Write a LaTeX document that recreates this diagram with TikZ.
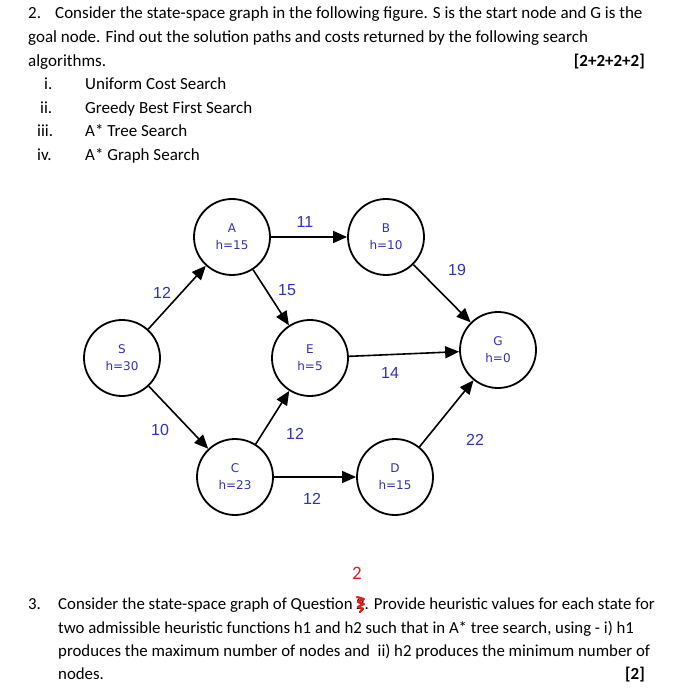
\documentclass[tikz,border=0pt]{standalone}
\usepackage{fontspec}
\setmainfont{Carlito}
\newfontfamily\nodefont{DejaVu Sans}
\newfontfamily\costfont{Liberation Sans}
\usetikzlibrary{arrows.meta}
\definecolor{lblue}{RGB}{50,50,180}
\definecolor{penred}{RGB}{220,30,30}
\begin{document}
\begin{tikzpicture}[x=1pt,y=-1pt,
 state/.style={circle,draw,line width=1.8pt,minimum size=76pt,inner sep=0pt,align=center,
   font=\nodefont\fontsize{12}{17}\selectfont,text=lblue},
 edge/.style={line width=1.6pt,-{Triangle[length=14pt,width=12pt]}},
 cost/.style={font=\costfont\fontsize{16}{18}\selectfont,text=lblue,inner sep=0pt},
 txt/.style={anchor=base west,inner sep=0pt,font=\fontsize{17}{20}\selectfont},
 txtb/.style={anchor=base west,inner sep=0pt,font=\fontsize{16.8}{20}\selectfont},
 txtr/.style={anchor=base east,inner sep=0pt,font=\bfseries\fontsize{17}{20}\selectfont}]
\useasboundingbox[fill=white] (0,0) rectangle (679,700);

% Question 2 text
\node[txt] (q2n) at (28,19) {2.};
\node[txt] (q2l1) at (55,19) {Consider the state-space graph in the following figure. S is the start node and G is the};
\node[txt] (q2l2) at (28,43) {goal node. Find out the solution paths and costs returned by the following search};
\node[txt] (q2l3) at (28,67) {algorithms.};
\node[txtr] (q2m) at (645,67) {[2+2+2+2]};
\node[txt] (i1) at (44,90) {i.};
\node[txt] (i1t) at (85,90) {Uniform Cost Search};
\node[txt] (i2) at (40,114) {ii.};
\node[txt] (i2t) at (85,114) {Greedy Best First Search};
\node[txt] (i3) at (37,137) {iii.};
\node[txt] (i3t) at (85,137) {A* Tree Search};
\node[txt] (i4) at (37,161) {iv.};
\node[txt] (i4t) at (85,161) {A* Graph Search};

% graph
\node[state] (S) at (122,358) {S\\h=30};
\node[state] (A) at (232,237) {A\\h=15};
\node[state] (B) at (386,237) {B\\h=10};
\node[state] (E) at (310,358) {E\\h=5};
\node[state] (G) at (498,350) {G\\h=0};
\node[state] (C) at (235,477) {C\\h=23};
\node[state] (D) at (395,477) {D\\h=15};

\draw[edge] (S) -- (A);
\draw[edge] (A) -- (B);
\draw[edge] (A) -- (E);
\draw[edge] (B) -- (G);
\draw[edge] (E) -- (G);
\draw[edge] (S) -- (C);
\draw[edge] (C) -- (E);
\draw[edge] (C) -- (D);
\draw[edge] (D) -- (G);

\node[cost] (c1) at (162,293) {12};
\node[cost] (c2) at (305,222) {11};
\node[cost] (c3) at (287,290) {15};
\node[cost] (c4) at (457,270) {19};
\node[cost] (c5) at (390,373) {14};
\node[cost] (c6) at (160,430) {10};
\node[cost] (c7) at (295,434) {12};
\node[cost] (c8) at (312,499) {12};
\node[cost] (c9) at (475,440) {22};

% Question 3 text
\node[inner sep=0pt,text=penred,font=\fontsize{19}{22}\selectfont] (red2) at (357,573) {2};
\node[txtb] (q3n) at (28,609) {3.};
\node[txtb] (q3a) at (58,609) {Consider the state-space graph of Question};
\node[txtb,anchor=base west] (q3b) at ([xshift=3pt]q3a.base east) {2. Provide heuristic values for each state for};
\draw[penred,line width=2.2pt,line join=round,line cap=round]
   ([xshift=1pt,yshift=12pt]q3b.base west) -- ([xshift=8pt,yshift=10pt]q3b.base west)
   -- ([xshift=2pt,yshift=7pt]q3b.base west) -- ([xshift=8pt,yshift=5pt]q3b.base west)
   -- ([xshift=2pt,yshift=2pt]q3b.base west) -- ([xshift=7pt,yshift=0pt]q3b.base west)
   -- ([xshift=4pt,yshift=-3pt]q3b.base west);
\node[txtb] (q3l2) at (58,633) {two admissible heuristic functions h1 and h2 such that in A* tree search, using - i) h1};
\node[txtb] (q3l3) at (58,656) {produces the maximum number of nodes and\ \ ii) h2 produces the minimum number of};
\node[txtb] (q3l4) at (58,679) {nodes.};
\node[txtr] (q3m) at (645,679) {[2]};
\end{tikzpicture}
\end{document}
